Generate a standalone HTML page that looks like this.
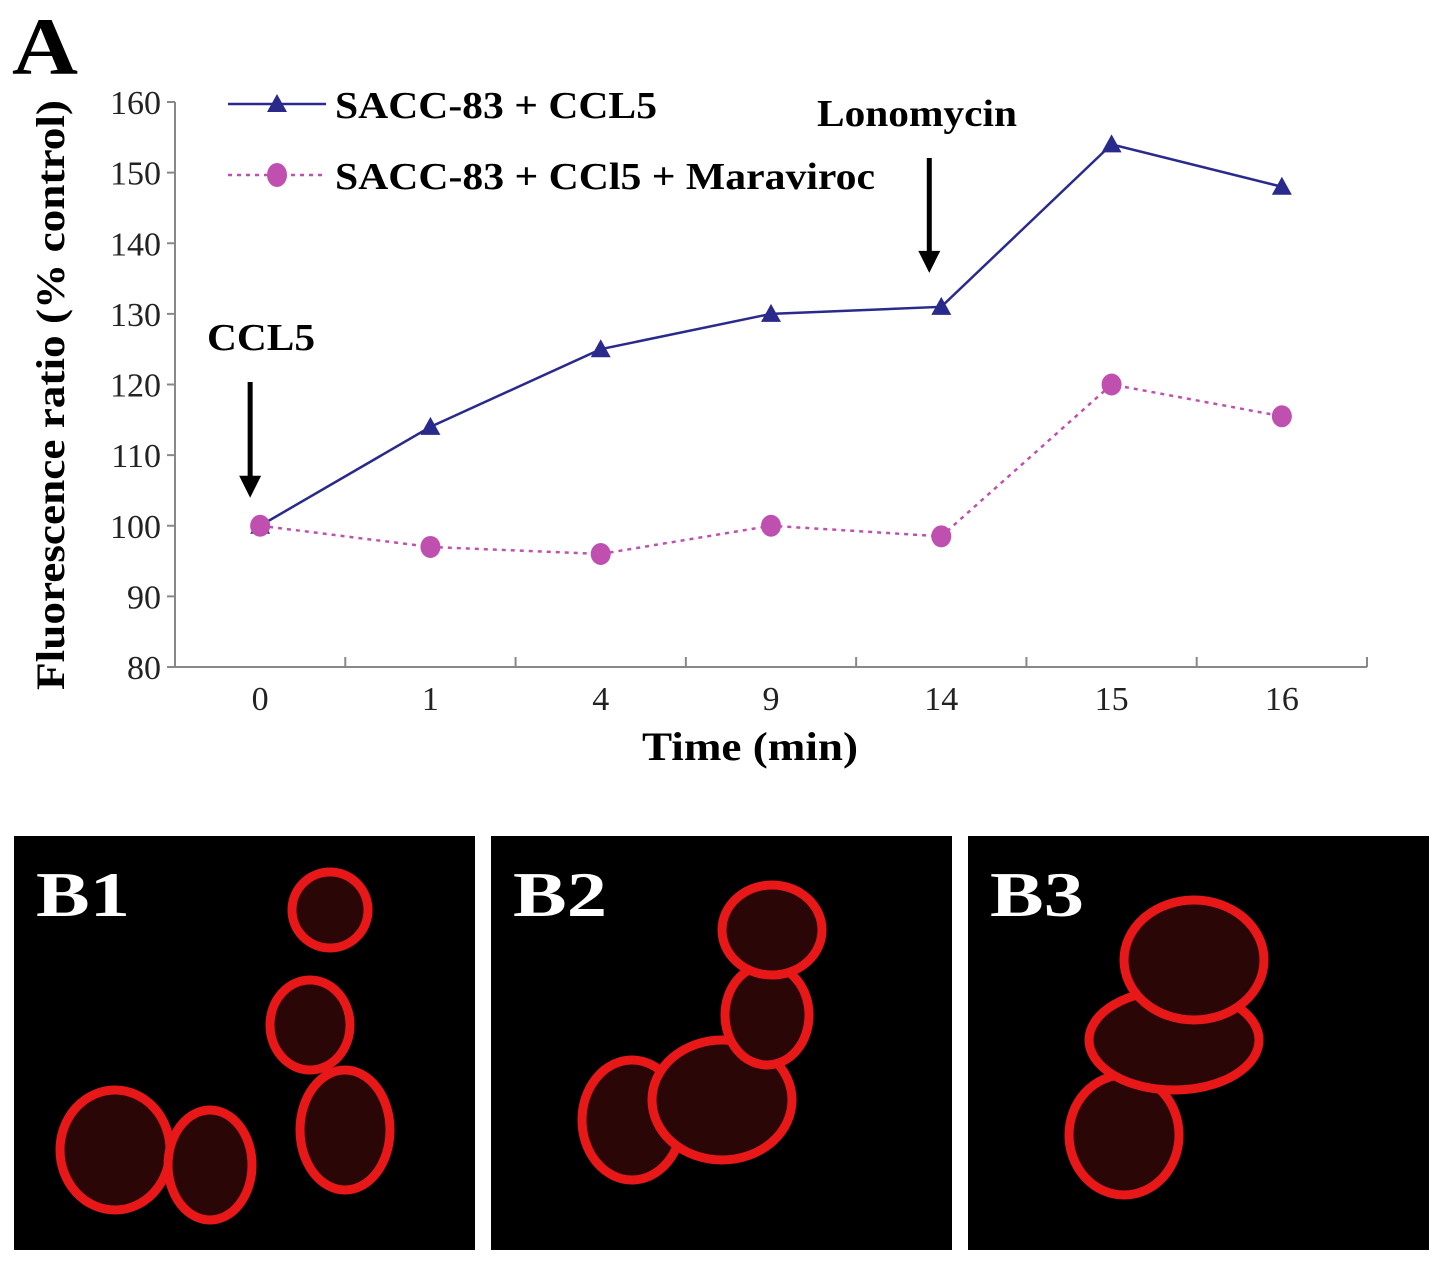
<!DOCTYPE html>
<html><head><meta charset="utf-8">
<style>
html,body{margin:0;padding:0;background:#fff;width:1441px;height:1263px;overflow:hidden}
svg{display:block}
text{font-family:"Liberation Serif",serif}
</style></head>
<body>
<svg id="fig" width="1441" height="1263" viewBox="0 0 1441 1263">
<text x="12" y="74" font-size="82" font-weight="bold" textLength="66" lengthAdjust="spacingAndGlyphs">A</text>
<g id="chart"></g>
<g id="panels"></g>
</svg>
<script>
const categories = ["0","1","4","9","14","15","16"];
const seriesCCL5 = [100,114,125,130,131,154,148];
const seriesMaraviroc = [100,97,96,100,98.5,120,115.5];
const yTicks = [80,90,100,110,120,130,140,150,160];
const NS="http://www.w3.org/2000/svg";
const g=document.getElementById('chart');
const X0=175,X1=1367,Y0=667,Y1=102,YMIN=80,YMAX=160;
const band=(X1-X0)/categories.length;
function xs(i){return X0+band*(i+0.5);}
function ys(v){return Y0-(v-YMIN)/(YMAX-YMIN)*(Y0-Y1);}
function mk(tag,attrs,parent){const e=document.createElementNS(NS,tag);for(const k in attrs)e.setAttribute(k,attrs[k]);(parent||g).appendChild(e);return e;}
let e=mk('line',{x1:X0,y1:Y1,x2:X0,y2:Y0,stroke:'#888','stroke-width':2});


e=mk('line',{x1:X0,y1:Y0,x2:X1,y2:Y0,stroke:'#888','stroke-width':2});


yTicks.forEach(v=>{
  const t=mk('line',{x1:X0-8,y1:ys(v),x2:X0,y2:ys(v),stroke:'#888','stroke-width':2});
  
  
  const l=mk('text',{x:X0-14,y:ys(v)+12,'font-size':34,'text-anchor':'end',fill:'#222'});
  l.textContent=v;
  
  
});
categories.forEach((c,i)=>{
  const t=mk('line',{x1:X0+band*(i+1),y1:Y0-10,x2:X0+band*(i+1),y2:Y0,stroke:'#888','stroke-width':2});
  
  
  const l=mk('text',{x:xs(i),y:710,'font-size':34,'text-anchor':'middle',fill:'#222'});
  l.textContent=c;
  
  
});
e=mk('text',{x:642,y:760,'font-size':40,'font-weight':'bold',textLength:216,lengthAdjust:'spacingAndGlyphs'});
e.textContent='Time (min)';


e=mk('text',{x:-295,y:0,'font-size':40,'font-weight':'bold',textLength:590,lengthAdjust:'spacingAndGlyphs',transform:'translate(64,395) rotate(-90)'});
e.textContent='Fluorescence ratio (% control)';


function tri(x,y,s,parent){return mk('polygon',{points:`${x},${y-s} ${x-s},${y+s*0.8} ${x+s},${y+s*0.8}`,fill:'#2a2a8c'},parent);}
const p1=mk('polyline',{points:seriesCCL5.map((v,i)=>xs(i)+','+ys(v)).join(' '),fill:'none',stroke:'#2a2a8c','stroke-width':2.5});


const p2=mk('polyline',{points:seriesMaraviroc.map((v,i)=>xs(i)+','+ys(v)).join(' '),fill:'none',stroke:'#c050b0','stroke-width':2.5,'stroke-dasharray':'4,5'});


seriesCCL5.forEach((v,i)=>{const m=tri(xs(i),ys(v),10);
  
  });
seriesMaraviroc.forEach((v,i)=>{const m=mk('ellipse',{cx:xs(i),cy:ys(v),rx:10,ry:11,fill:'#c050b0'});
  
  });
e=mk('line',{x1:228,y1:104,x2:326,y2:104,stroke:'#2a2a8c','stroke-width':2.5});


e=tri(277,104,10);


e=mk('text',{x:335,y:118,'font-size':38,'font-weight':'bold',textLength:322,lengthAdjust:'spacingAndGlyphs'});
e.textContent='SACC-83 + CCL5';


e=mk('line',{x1:228,y1:175,x2:326,y2:175,stroke:'#c050b0','stroke-width':2.5,'stroke-dasharray':'4,5'});


e=mk('ellipse',{cx:277,cy:175,rx:10,ry:12,fill:'#c050b0'});


e=mk('text',{x:335,y:189,'font-size':38,'font-weight':'bold',textLength:540,lengthAdjust:'spacingAndGlyphs'});
e.textContent='SACC-83 + CCl5 + Maraviroc';


function arrow(x,yTop,yTip,name){
  const a=mk('line',{x1:x,y1:yTop,x2:x,y2:yTip-18,stroke:'#000','stroke-width':5});
  
  
  const h=mk('polygon',{points:`${x-11},${yTip-22} ${x+11},${yTip-22} ${x},${yTip}`,fill:'#000'});
  
  
}
arrow(xs(0)-10,382,ys(seriesCCL5[0])-28,'ccl5-arrow');
arrow(xs(4)-12,158,ys(seriesCCL5[4])-34,'lonomycin-arrow');
e=mk('text',{x:207,y:350,'font-size':38,'font-weight':'bold',textLength:108,lengthAdjust:'spacingAndGlyphs'});
e.textContent='CCL5';


e=mk('text',{x:817,y:126,'font-size':38,'font-weight':'bold',textLength:200,lengthAdjust:'spacingAndGlyphs'});
e.textContent='Lonomycin';


const pg=document.getElementById('panels');
const panels=[{x:14,label:'B1',cells:[[115,1150,55,60],[210,1165,42,55],[345,1130,45,60],[310,1025,40,45],[330,910,38,38]]},
 {x:491,label:'B2',cells:[[155,1120,50,60],[245,1100,70,60],[290,1015,42,50],[295,930,50,45]]},
 {x:968,label:'B3',cells:[[170,1135,55,60],[220,1040,85,50],[240,960,70,60]]}];
panels.forEach((p,i)=>{
  const r=mk('rect',{x:p.x,y:836,width:461,height:414,fill:'#000'},pg);
  
  
  p.cells.forEach(c=>{
    const el=mk('ellipse',{cx:p.x+c[0]-14,cy:c[1],rx:c[2],ry:c[3],fill:'#2a0606',stroke:'#e81818','stroke-width':9},pg);
    
    
  });
  const t=mk('text',{x:p.x+22,y:916,'font-size':64,'font-weight':'bold',fill:'#fff',textLength:94,lengthAdjust:'spacingAndGlyphs'},pg);
  t.textContent=p.label;
  
  
});
</script>
</body></html>
